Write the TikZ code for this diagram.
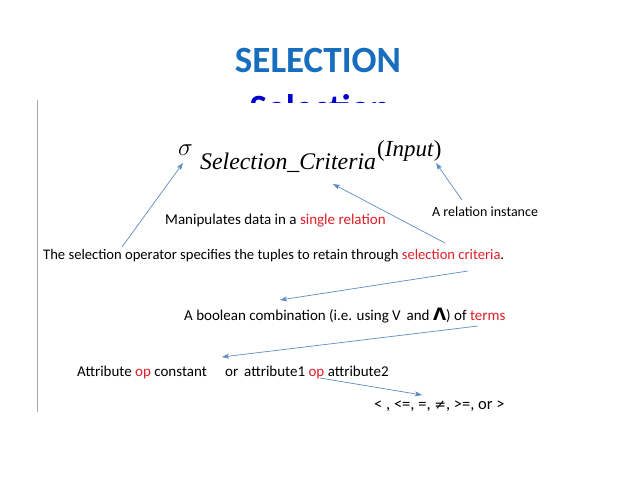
\documentclass[tikz,border=0pt]{standalone}
\usepackage{fontspec}
\setmainfont{Carlito}
\newfontfamily\tms{Liberation Serif}
\newfontfamily\dvs{DejaVu Sans}
\usetikzlibrary{arrows.meta}
\begin{document}
\begin{tikzpicture}[x=1pt,y=-1pt,
  txt/.style={font=\fontsize{15}{17}\selectfont,inner sep=0pt,anchor=west},
  arr/.style={draw=arrowc,line width=0.7pt,-{Stealth[length=7pt,width=5pt,inset=1.5pt]}}]
\definecolor{titleblue}{RGB}{24,110,190}
\definecolor{arrowc}{RGB}{96,140,196}
\definecolor{redt}{RGB}{225,30,40}
\useasboundingbox (0,0) rectangle (638,478);
\fill[white] (0,0) rectangle (638,478);
\node[font=\fontsize{37}{40}\bfseries\selectfont,text=titleblue,inner sep=0pt] (title) at (318,60) {SELECTION};
\begin{scope}
\clip (240,95) rectangle (400,103);
\node[font=\fontsize{37}{40}\bfseries\selectfont,text=blue!80!black,inner sep=0pt,anchor=north] (ghost) at (320,94) {Selection};
\end{scope}
\draw[gray!70,line width=1pt] (37,100) -- (37,412);
% formula
\node[inner sep=0pt,anchor=base west,font=\tms\fontsize{40}{42}\selectfont] (sig) at (178,156) {$\sigma$};
\node[inner sep=0pt,anchor=base west,font=\tms\itshape\fontsize{23.8}{26}\selectfont] (sub) at (200,170) {Selection\_Criteria};
\node[inner sep=0pt,anchor=base west,font=\tms\fontsize{23}{25}\selectfont] (inp) at (377,157) {(\textit{Input})};
% texts
\node[txt] (manip) at (165,221) {Manipulates data in a \textcolor{redt}{single relation}};
\node[txt,font=\fontsize{14}{16}\selectfont] (relinst) at (432,212) {A relation instance};
\node[txt,font=\fontsize{14.6}{16}\selectfont] (selop) at (43,256) {The selection operator specifies the tuples to retain through \textcolor{redt}{selection criteria}.};
\node[txt] (bool) at (184,316) {A boolean combination (i.e. using V\, and {\dvs\bfseries\fontsize{17}{17}\selectfont Λ}) of \textcolor{redt}{terms}};
\node[txt] (attr) at (77,373) {Attribute \textcolor{redt}{op} constant \quad or\, attribute1 \textcolor{redt}{op} attribute2};
\node[txt,font=\fontsize{16.5}{18}\selectfont] (ops) at (374,406) {< , <=, =, {\dvs\fontsize{14}{16}\selectfont ≠}, >=, or >};
% arrow end points
\coordinate (a1s) at (122,247); \coordinate (a1e) at (183,163);
\coordinate (a2s) at (445,243); \coordinate (a2e) at (333,184);
\coordinate (a3s) at (462,200); \coordinate (a3e) at (436,163);
\coordinate (a4s) at (468,271); \coordinate (a4e) at (280,300);
\coordinate (a5s) at (478,326); \coordinate (a5e) at (222,357);
\coordinate (a6s) at (320,378); \coordinate (a6e) at (422,395);
\draw[arr] (a1s) -- (a1e);
\draw[arr] (a2s) -- (a2e);
\draw[arr] (a3s) -- (a3e);
\draw[arr] (a4s) -- (a4e);
\draw[arr] (a5s) -- (a5e);
\draw[arr] (a6s) -- (a6e);
\end{tikzpicture}
\end{document}
